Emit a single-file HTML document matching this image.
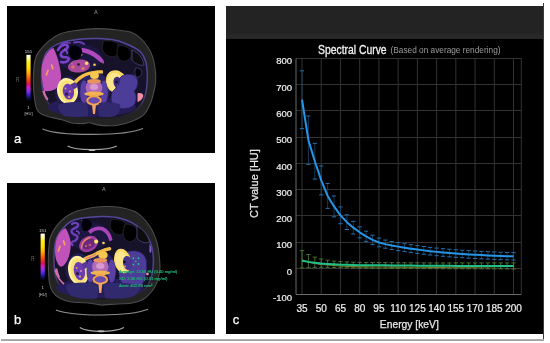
<!DOCTYPE html>
<html><head><meta charset="utf-8"><style>
html,body{margin:0;padding:0;background:#fff;width:550px;height:343px;overflow:hidden;position:relative;font-family:"Liberation Sans",Arial,sans-serif}
.p{position:absolute;background:#000;overflow:hidden}
.lbl{position:absolute;color:#fff;-webkit-text-stroke:0.25px #fff;font:13px "Liberation Sans",Arial,sans-serif}
svg text{font-family:"Liberation Sans",Arial,sans-serif}
</style></head><body>
<svg width="0" height="0" style="position:absolute"><defs>
<linearGradient id="lut" x1="0" y1="0" x2="0" y2="1">
<stop offset="0" stop-color="#fffff0"/><stop offset="0.06" stop-color="#fffcb0"/><stop offset="0.15" stop-color="#ffec20"/><stop offset="0.27" stop-color="#ffe000"/>
<stop offset="0.37" stop-color="#ffb000"/><stop offset="0.46" stop-color="#ff7000"/><stop offset="0.55" stop-color="#f03020"/><stop offset="0.61" stop-color="#e01060"/>
<stop offset="0.68" stop-color="#d020d0"/><stop offset="0.76" stop-color="#8030f0"/><stop offset="0.825" stop-color="#4020d0"/><stop offset="0.89" stop-color="#101060"/><stop offset="0.955" stop-color="#02020a"/><stop offset="1" stop-color="#000"/>
</linearGradient>
<linearGradient id="istk" x1="0" y1="0" x2="0" y2="1"><stop offset="0" stop-color="#54489a"/><stop offset="0.7" stop-color="#4a4080"/><stop offset="0.9" stop-color="#2a2638"/><stop offset="1" stop-color="#1e1e22"/></linearGradient>
<filter id="bl" x="-10%" y="-10%" width="120%" height="120%"><feGaussianBlur stdDeviation="0.7"/></filter>
</defs></svg>
<div class="p" style="left:7px;top:6px;width:208px;height:146.5px">
<svg width="208" height="147" viewBox="0 0 208 147"><g transform="translate(-7,-6)">
  <!-- body outer (fat) -->
  <path d="M97.0 28.6 C102.5 28.5 106.4 28.8 112.0 29.4 C117.6 30.0 125.6 30.6 130.4 32.1 C135.2 33.6 137.5 35.6 140.6 38.3 C143.7 41.0 146.8 45.3 148.8 48.5 C150.9 51.7 151.8 54.1 152.9 57.7 C154.0 61.3 154.9 66.0 155.3 70.0 C155.8 74.0 155.8 78.3 155.6 82.0 C155.3 85.7 154.7 88.4 153.8 92.0 C152.9 95.6 152.0 100.0 150.3 103.8 C148.6 107.6 146.7 111.8 143.8 114.7 C140.9 117.6 137.2 119.2 132.8 121.0 C128.4 122.8 122.3 124.4 117.5 125.2 C112.7 126.0 107.6 125.7 104.0 125.6 C100.4 125.5 98.4 125.0 96.0 124.5 C93.6 124.0 91.7 122.9 89.5 122.7 C87.3 122.5 85.9 123.5 83.0 123.6 C80.1 123.6 75.5 123.6 72.0 123.0 C68.5 122.4 65.8 120.9 61.8 119.8 C57.8 118.7 51.5 117.5 48.0 116.5 C44.5 115.5 42.4 114.8 40.5 113.5 C38.6 112.2 37.8 111.6 36.8 109.0 C35.8 106.4 35.0 101.8 34.5 98.0 C34.0 94.2 33.6 90.3 33.5 86.0 C33.4 81.7 33.3 76.3 33.6 72.0 C33.9 67.7 34.3 63.2 35.1 60.0 C35.9 56.8 36.0 55.7 38.2 52.6 C40.4 49.5 44.7 44.4 48.4 41.3 C52.1 38.1 55.5 35.6 60.6 33.7 C65.7 31.8 72.9 31.0 79.0 30.1 C85.1 29.2 91.5 28.7 97.0 28.6 Z" fill="#232323" stroke="#4c4c4c" stroke-width="1.1"/>
  <!-- inner cavity -->
  <path d="M97.0 38.6 C103.2 38.8 110.7 39.2 116.4 40.4 C122.1 41.6 126.9 44.0 131.0 46.0 C135.1 48.0 138.6 50.0 141.0 52.5 C143.4 55.0 144.5 57.8 145.5 61.0 C146.5 64.2 146.9 68.2 147.2 72.0 C147.4 75.8 147.4 80.0 147.0 84.0 C146.6 88.0 146.1 92.4 145.0 96.0 C143.9 99.6 142.5 102.8 140.5 105.5 C138.5 108.2 136.4 110.1 133.0 112.0 C129.6 113.9 124.8 116.0 120.0 117.0 C115.2 118.0 108.7 117.9 104.0 118.0 C99.3 118.1 96.7 118.0 92.0 117.8 C87.3 117.6 80.8 117.6 76.0 117.0 C71.2 116.4 66.8 115.5 63.0 114.0 C59.2 112.5 55.8 110.3 53.0 108.0 C50.2 105.7 48.2 103.3 46.5 100.0 C44.8 96.7 43.3 92.0 42.5 88.0 C41.7 84.0 41.5 80.0 41.5 76.0 C41.5 72.0 41.9 67.6 42.5 64.0 C43.1 60.4 44.0 57.2 45.3 54.6 C46.6 52.0 47.8 50.5 50.4 48.5 C53.0 46.5 55.8 44.4 60.6 42.9 C65.4 41.4 72.9 40.0 79.0 39.3 C85.1 38.6 90.8 38.4 97.0 38.6 Z" fill="#16122a" stroke="url(#istk)" stroke-width="1.5"/>
  <g filter="url(#bl)">
  <ellipse cx="92" cy="107" rx="44" ry="10" fill="#261d58"/>
  <ellipse cx="68" cy="92" rx="13" ry="16" fill="#221a50"/>
  <ellipse cx="94" cy="90" rx="16" ry="18" fill="#2a2060"/>
  <ellipse cx="80" cy="58" rx="22" ry="14" fill="#1e1840"/>

  <!-- top-left bowel purple loops -->
  <path d="M58 50 C60 46 64 44 67 45 C69 47 66 50 63 51 C60 53 60 56 63 57 C66 58 68 56 69 59 C68 62 64 63 61 62" stroke="#7a42c8" stroke-width="2.6" fill="none" stroke-linecap="round"/>
  <path d="M60 46 C62 43 66 42 70 43" stroke="#6a3cb8" stroke-width="1.8" fill="none" stroke-linecap="round"/>
  <path d="M64 49 C66 50 68 52 67 54" stroke="#8a50d0" stroke-width="1.5" fill="none"/>
  <path d="M74 42.5 C78 41.5 82 42 84 44" stroke="#6a3cb8" stroke-width="2" fill="none" stroke-linecap="round"/>
  <!-- magenta band -->
  <path d="M82 48 C88 48.5 95 51.5 100 56 C102.5 58.5 104.5 61 104 63.5 C102 63.5 99.5 61.5 97 59.5 C93 56 88 53.5 83 52.5 C81 51.5 80.5 49 82 48 Z" fill="#b048be"/>
  <!-- lower mottled pink -->
  <path d="M68 66 C70 61 76 59 82 59.5 C87 60 90 62 90 66 C89 70 84 72.5 78 72.5 C72 72.5 67.5 70.5 68 66 Z" fill="#a8489c"/>
  <circle cx="73" cy="67" r="1.8" fill="#d87070"/><circle cx="78.5" cy="64.5" r="1.3" fill="#2a1430"/><circle cx="83" cy="68.5" r="1.5" fill="#e08860"/><circle cx="72" cy="63.5" r="1" fill="#c060b0"/>
  <circle cx="81.5" cy="54.7" r="1" fill="#e09060"/>
  <!-- dark gas left-center -->
  <path d="M70 46 C74 44 80 46 82 50 C82 56 80 60 76 60 C72 60 69 56 69 52 Z" fill="#050408"/>
  <!-- colon gas top-right -->
  <path d="M103 41 C110 40 117 41 119 46 C120 51 118 56 113 57 C107 57 103 53 102 48 Z" fill="#040405" stroke="#262630" stroke-width="0.8"/>
  <path d="M118 45.5 C124 45 130 47 131 52 C132 57 129 61 124 61.5 C119 61 117 57 117 52 Z" fill="#040405" stroke="#262630" stroke-width="0.8"/>
  <path d="M132 50 C138 52 143 58 144 65 C140 66 135 64 132 60 Z" fill="#0a0a10" stroke="#4a4078" stroke-width="0.9"/>
  <!-- bright dots -->
  <circle cx="86.6" cy="63.3" r="1.7" fill="#ffe060"/>
  <circle cx="94.5" cy="64.7" r="1.3" fill="#ffd050"/>
  <!-- liver -->
  <path d="M47.5 52.5 C49.5 50 51.5 48.5 53.5 48 C57 55 60 65 61 75 C61.3 81 59 86 55.6 89 C52 91 47 91.5 44 91 C42.5 85 41.5 77 41.6 70 C41.7 64 44 57.5 47.5 52.5 Z" fill="#c052ba"/>
  <path d="M46.4 75 L48 70.3 M51.5 65 L52.8 68.6" stroke="#f0a060" stroke-width="1.7" stroke-linecap="round" fill="none"/>
  <path d="M42.3 91 C43.5 95 45 98 47 100.5 L48.5 99 C46.5 96.5 45.5 94 44.8 91 Z" fill="#d070a8"/>
  <!-- psoas -->
      <!-- renal vein arc -->
  <path d="M70 86 C74 80 80 74 88 72 C94 70.5 100 70 103 70.5 L103 73.5 C98 73.5 92 74 88 75.5 C82 77.5 77 82 73 88 Z" fill="#f2c04a"/>
  <!-- aorta -->
  <ellipse cx="94.5" cy="75.5" rx="4.4" ry="3.6" fill="#f6c850"/>
  <!-- left kidney -->
  <ellipse cx="67.5" cy="91" rx="10.4" ry="13.1" transform="rotate(-10 67.5 91)" fill="#fff0a0"/>
  <ellipse cx="67.8" cy="91.3" rx="8.4" ry="11" transform="rotate(-10 67.5 91)" fill="#fbe176"/>
  <ellipse cx="68.3" cy="91.8" rx="5.6" ry="8" transform="rotate(-10 67.5 91)" fill="#6a3cb0"/>
  <path d="M70.5 84.5 L75.0 82.0 L78.5 86.5 L73.5 89.5 Z" fill="#5a3498"/>
  <circle cx="66.5" cy="94.0" r="1.5" fill="#2a1840"/><circle cx="70.0" cy="91.5" r="1.1" fill="#e08aa0"/><circle cx="65.5" cy="88.5" r="1" fill="#e0a060"/><circle cx="69.0" cy="97.0" r="1" fill="#f0b060"/>
  <!-- right kidney crescent -->
  <ellipse cx="116.5" cy="82" rx="10.5" ry="12" transform="rotate(-25 116.5 82)" fill="#f8da62"/>
  <ellipse cx="115.5" cy="82" rx="8.2" ry="9.8" transform="rotate(-25 116.5 82)" fill="#fff0b0" opacity="0.55"/>
  <ellipse cx="118.5" cy="83.5" rx="4.6" ry="7" transform="rotate(-25 118.5 83.5)" fill="#3c2a78"/>
  <circle cx="116.5" cy="82" r="1.2" fill="#0c0818"/><circle cx="118" cy="86" r="1" fill="#e0a060"/>
  <!-- mass -->
  <path d="M120 78 C122 74.5 128 73.5 133 75 C137 76.5 138.5 81 137.5 85 C137 88 135.5 90 134 91 C136.5 94 136.8 100 134.8 104 C132.3 107.5 127 109 121 108.6 C115.5 108.2 112 104.5 111.2 99.5 C110.8 95 112 91.5 114.5 89.5 C117 87.5 119 84 119.5 81 Z" fill="#4c3c98" stroke="#2c2068" stroke-width="0.8"/>
  <path d="M137.5 93.5 C140 92.5 143.5 93.5 143.3 96 C142.5 99 140 101.5 137.5 102 Z" fill="#f090a8"/>
  <path d="M135.5 68 C138 67.5 141 69 142 72 C141.5 76 138.5 78 136 77 C134.5 74.5 134.5 70.5 135.5 68 Z" fill="#050408" stroke="#4a4078" stroke-width="0.8"/>
  <!-- spine -->
  <ellipse cx="84" cy="92.0" rx="3.8" ry="11.5" fill="#5a40a4"/><ellipse cx="104" cy="92.0" rx="3.8" ry="11.5" fill="#5a40a4"/>
  <ellipse cx="94" cy="87.5" rx="8.3" ry="8.3" fill="#b46ab8"/>
  <ellipse cx="94" cy="81.3" rx="6.8" ry="2.4" fill="#e8945a"/>
  <ellipse cx="94" cy="93.8" rx="9.8" ry="2.3" fill="#f2b452"/>
  <ellipse cx="94" cy="87.0" rx="4.2" ry="3" fill="#d898d0"/>
  <ellipse cx="94" cy="100.5" rx="6.8" ry="4.2" fill="#6a4ab0" stroke="#f0a24c" stroke-width="2"/>
  <path d="M92.0 104.0 L96.0 104.0 L95.0 114.0 L93.0 114.0 Z" fill="#f2a860"/>
  <!-- back muscles -->
  <path d="M58 105 C64 102 74 101.5 84 102.5 C88 104 89 110 88 116 C82 117.5 72 117.5 64 116 C60 113 58 109 58 105 Z" fill="#32296e"/>
  <path d="M99 103 C106 101.5 114 102 120 104.5 C121 109 119 114 114 116.5 C108 117.5 102 117.5 99 116 C98 111 98 107 99 103 Z" fill="#32296e"/>
  </g>
  <!-- table lines -->
  <path d="M42.5 128.9 C60 136.3 125 136.3 143 128.5" stroke="#8e8e8e" stroke-width="1.1" fill="none"/>
  <path d="M67.6 146 C76 150.8 108 150.8 116.7 146" stroke="#a4a4a4" stroke-width="1.4" fill="none"/><ellipse cx="92" cy="149.9" rx="3.5" ry="1" fill="#bbbbbb"/>
</g>
<g transform="translate(-7,-6)"><rect x="26.4" y="54.8" width="4.2" height="48.2" fill="url(#lut)"/>
  <text x="28.5" y="53.2" font-size="4.4" fill="#d0d0d0" text-anchor="middle">151</text>
  <text x="28.5" y="109.0" font-size="4.4" fill="#d0d0d0" text-anchor="middle">1</text>
  <text x="28.5" y="115.2" font-size="4" fill="#c0c0c0" text-anchor="middle">[HU]</text>
  <text transform="translate(17.7,82.2) scale(0.72,1)" font-size="6.5" fill="#6a6a6a" text-anchor="middle">R</text><text x="95.8" y="14" font-size="5.5" fill="#999" text-anchor="middle">A</text></g></svg>
<div class="lbl" style="left:7.1px;top:125.1px">a</div>
</div>
<div class="p" style="left:7px;top:183px;width:208px;height:150.5px">
<svg width="208" height="151" viewBox="0 0 208 151"><g transform="translate(-7,-183)">
  <path d="M104.0 206.5 C109.3 206.4 116.4 206.6 122.0 207.7 C127.6 208.8 132.9 210.0 137.5 213.1 C142.1 216.2 146.6 221.5 149.8 226.3 C153.0 231.1 155.2 236.8 156.8 242.0 C158.4 247.2 158.9 253.5 159.4 257.8 C159.9 262.1 160.1 264.6 159.9 268.0 C159.7 271.4 159.1 274.9 158.3 278.0 C157.5 281.1 156.4 283.9 155.0 286.5 C153.6 289.1 152.0 291.3 150.0 293.5 C148.0 295.7 146.0 297.9 143.0 299.5 C140.0 301.1 136.2 302.2 132.0 303.0 C127.8 303.8 122.3 303.7 118.0 304.0 C113.7 304.3 108.6 304.4 106.0 304.6 C103.4 304.8 103.8 305.2 102.6 305.2 C101.4 305.2 101.8 305.0 99.0 304.6 C96.2 304.2 90.8 303.3 86.0 302.8 C81.2 302.3 74.5 302.6 70.2 301.8 C65.9 301.1 62.9 299.9 60.0 298.3 C57.1 296.7 54.5 294.7 52.7 292.0 C50.9 289.3 50.0 286.3 49.3 282.0 C48.6 277.7 48.5 270.7 48.4 266.0 C48.2 261.3 48.3 257.7 48.4 254.0 C48.5 250.3 48.8 246.9 49.2 244.0 C49.6 241.1 49.4 239.4 50.6 236.5 C51.8 233.6 53.8 229.5 56.2 226.3 C58.6 223.1 61.8 219.9 65.0 217.5 C68.2 215.1 71.0 213.3 75.2 211.7 C79.4 210.1 85.2 208.9 90.0 208.0 C94.8 207.1 98.7 206.6 104.0 206.5 Z" fill="#232323" stroke="#4c4c4c" stroke-width="1.1"/>
  <path d="M104.0 216.6 C108.7 216.8 115.3 217.2 120.0 218.2 C124.7 219.2 128.8 221.0 132.3 222.8 C135.8 224.6 138.7 227.0 141.0 229.0 C143.3 231.0 144.7 232.7 146.3 235.0 C147.9 237.3 149.4 240.3 150.5 243.0 C151.6 245.7 152.1 247.8 152.6 251.0 C153.1 254.2 153.5 258.2 153.4 262.0 C153.3 265.8 152.9 270.5 152.2 274.0 C151.5 277.5 150.4 280.3 149.0 283.0 C147.6 285.7 146.5 287.9 144.0 290.0 C141.5 292.1 138.0 294.1 134.0 295.5 C130.0 296.9 125.0 297.9 120.0 298.5 C115.0 299.1 107.8 299.1 104.0 299.2 C100.2 299.3 100.7 299.5 97.0 299.2 C93.3 298.9 86.8 298.6 82.0 297.5 C77.2 296.4 71.8 294.8 68.0 292.5 C64.2 290.2 61.2 287.2 59.0 284.0 C56.8 280.8 55.8 277.0 55.0 273.0 C54.2 269.0 54.1 264.2 54.0 260.0 C53.9 255.8 54.2 251.3 54.5 248.0 C54.8 244.7 55.3 242.4 56.0 240.0 C56.7 237.6 57.5 235.9 58.8 233.8 C60.0 231.8 61.5 229.8 63.5 227.7 C65.5 225.6 68.0 223.0 70.8 221.5 C73.5 220.0 76.5 219.2 80.0 218.5 C83.5 217.8 88.0 217.3 92.0 217.0 C96.0 216.7 99.3 216.4 104.0 216.6 Z" fill="#16122a" stroke="url(#istk)" stroke-width="1.5"/>
  <g filter="url(#bl)">
  <ellipse cx="100" cy="288" rx="44" ry="10" fill="#261d58"/>
  <ellipse cx="78.5" cy="270" rx="13" ry="17" fill="#221a50"/>
  <ellipse cx="100.5" cy="270" rx="16" ry="18" fill="#2a2060"/>
  <ellipse cx="88" cy="236" rx="22" ry="14" fill="#1e1840"/>

  <!-- bowel purple loops -->
  <path d="M72 224 C75 222 79 223 78 226 C76 229 72 228 71.5 231 C71 234 75 234.5 77 236 C78.5 238 76 241 73 241.5 C71 242 70.5 244 72.5 245" stroke="#6c40b8" stroke-width="2.3" fill="none" stroke-linecap="round"/>
  <path d="M76 231 C78 231 79.5 232.5 79 234.5" stroke="#7a4ac4" stroke-width="1.5" fill="none"/>
  <path d="M82 221 C85 220 88 221 90 223" stroke="#5a38a0" stroke-width="1.8" fill="none" stroke-linecap="round"/>
  <!-- magenta arch -->
  <path d="M88 231 C92 227 98 225.5 103 227 C108 229 111.5 234 112.5 240 L109.5 241.5 C108.5 236.5 105.5 232 101.5 230.5 C97 229.5 93 231 90.5 234 Z" fill="#a844b6"/>
  <!-- duodenum loop -->
  <ellipse cx="88.5" cy="244" rx="10" ry="7.5" transform="rotate(-30 88.5 244)" fill="#9c3ea0"/>
  <ellipse cx="88.5" cy="244" rx="7.2" ry="4.8" transform="rotate(-30 88.5 244)" fill="#6a2a78"/>
  <path d="M81.5 248 C82 243 85 239 90 237.5" stroke="#e88070" stroke-width="1.5" fill="none" stroke-linecap="round"/>
  <circle cx="90" cy="245" r="1.3" fill="#c05898"/><circle cx="86" cy="246" r="1" fill="#e07060"/>
  <!-- gas -->
  <path d="M83 219 C87 218 91 220 92 224 C91 229 88 232 84 231 C81 229 81 223 83 219 Z" fill="#050408"/>
  <path d="M111 219.5 C118 219 124 220 126 224 C127 229 125 234 120 235 C114 235 111 231 110 226 Z" fill="#040405" stroke="#262630" stroke-width="0.8"/>
  <path d="M125 224 C131 224 136 226 137.5 231 C138 236 135 241 130 242 C125 241.5 123 237 123 232 Z" fill="#040405" stroke="#262630" stroke-width="0.8"/>
  <path d="M137 226 C143 229 148 235 149.5 242 C145 244 140 242 137 238 Z" fill="#0a0a10" stroke="#4a4078" stroke-width="0.9"/>
  <path d="M149.5 244 C151 246 152 250 151 253 L149.5 252 Z" fill="#8a60d0"/>
  <!-- dots -->
  <circle cx="96.2" cy="241.6" r="2.1" fill="#ffe870"/>
  <circle cx="103.5" cy="243" r="1.3" fill="#ffd050"/>
  <!-- liver -->
  <path d="M65.5 228 C68 232 70.5 238 70.8 244.7 C70.6 250 69.5 256 67 261 C65 264.5 63 266.6 61 266.8 C58.5 266 56.5 262 55.5 257 C54.6 251 55 244 57 238 C59 233 62 229.5 65.5 228 Z" fill="#c052ba"/>
  <path d="M58.4 251 L60 246.3 M63.5 241 L64.8 244.6" stroke="#f0a060" stroke-width="1.7" stroke-linecap="round" fill="none"/>
  <path d="M55 268.5 C56 272 57 275 58.5 278 L60 277 C58.8 274.5 58 271.5 57.3 268.5 Z" fill="#d070a8"/>
  <!-- psoas -->
      <!-- renal vein band -->
  <path d="M80.5 262 C84 259.5 87 257.5 90.3 256.6 C94 255.5 96.5 253.5 99 252.3 C103 250.5 106 249.3 109.5 248.8" stroke="#f2bc4c" stroke-width="3.6" fill="none" stroke-linecap="round"/>
  <path d="M86 258.5 C89 257.5 93 256 96 254" stroke="#d86890" stroke-width="1" fill="none"/>
  <!-- left kidney -->
  <ellipse cx="78.5" cy="270.5" rx="10.3" ry="14.8" transform="rotate(-10 78.5 270.5)" fill="#fff0a0"/>
  <ellipse cx="78.8" cy="270.8" rx="8.3" ry="12.6" transform="rotate(-10 78.5 270.5)" fill="#fbe176"/>
  <ellipse cx="79.3" cy="271.3" rx="5.6" ry="9.2" transform="rotate(-10 78.5 270.5)" fill="#6a3cb0"/>
  <path d="M81.5 264.0 L86.0 261.5 L89.5 266.0 L84.5 269.0 Z" fill="#5a3498"/>
  <circle cx="77.5" cy="273.5" r="1.5" fill="#2a1840"/><circle cx="81.0" cy="271.0" r="1.1" fill="#e08aa0"/><circle cx="76.5" cy="268.0" r="1" fill="#e0a060"/><circle cx="80.0" cy="276.5" r="1" fill="#f0b060"/>
  <!-- mass -->
  <path d="M123 256 C124 252 130 250.5 136 251 C142 252 146 256 146.5 262 C147 270 146 279 142 284.5 C137 288.5 130 288.5 125 286 C120 282 118.5 276 119 270 C119.5 265 121 260 123 256 Z" fill="#4c3c98" stroke="#2c2068" stroke-width="0.8"/>
  <!-- right kidney -->
  <ellipse cx="122.5" cy="261" rx="8.3" ry="12.4" transform="rotate(-12 122.5 261)" fill="#f8da62"/>
  <ellipse cx="121.8" cy="261" rx="6.3" ry="10.2" transform="rotate(-12 122.5 261)" fill="#fff0b0" opacity="0.55"/>
  <ellipse cx="127.6" cy="263" rx="4.6" ry="7.2" transform="rotate(-12 127.6 263)" fill="#4a3490"/>
  <circle cx="124.5" cy="262" r="1.2" fill="#0c0818"/><circle cx="125" cy="266.5" r="1" fill="#e0a060"/>
  <!-- aorta -->
  <ellipse cx="103" cy="255" rx="4.7" ry="4.3" fill="#f6c850"/>
  <!-- spine -->
  <ellipse cx="90.3" cy="271.0" rx="3.8" ry="11.5" fill="#5a40a4"/><ellipse cx="111.8" cy="271.0" rx="3.8" ry="11.5" fill="#5a40a4"/>
  <ellipse cx="100.3" cy="266.5" rx="8.3" ry="8.3" fill="#b46ab8"/>
  <ellipse cx="100.3" cy="260.3" rx="6.8" ry="2.4" fill="#e8945a"/>
  <ellipse cx="100.3" cy="272.8" rx="9.8" ry="2.3" fill="#f2b452"/>
  <ellipse cx="100.3" cy="266.0" rx="4.2" ry="3" fill="#d898d0"/>
  <ellipse cx="100.3" cy="279.5" rx="6.8" ry="4.2" fill="#6a4ab0" stroke="#f0a24c" stroke-width="2"/>
  <path d="M 98.3 283.0 L 102.3 283.0 L 101.3 293.0 L 99.3 293.0 Z" fill="#f2a860"/>
  <!-- back muscles -->
  <path d="M66 285 C74 282 86 282 96 283.5 C98.5 287 98.5 293 97 298.5 C88 299.5 76 298.5 70 295 C67 292 66 288 66 285 Z" fill="#32296e"/>
  <path d="M104.5 284 C114 282 128 282 140 285.5 C141.5 290 138 295 130 297.5 C120 299 110 299 105 298 C103.8 293 103.8 288 104.5 284 Z" fill="#32296e"/>
  <path d="M55 270 C57 276 60 281 64 284" stroke="#d070a8" stroke-width="1.6" fill="none"/>
  <circle cx="147.4" cy="274" r="1.3" fill="#f0a0b0"/>
  </g>
  <g fill="#22c48e">
   <circle cx="133.4" cy="258.3" r="0.95"/><circle cx="138.5" cy="258.3" r="0.95"/><circle cx="135.8" cy="261.4" r="0.8"/>
   <circle cx="133.4" cy="264.6" r="0.95"/><circle cx="138.5" cy="264" r="0.95"/>
  </g>
  <g fill="#1fae72" stroke="#1fae72" stroke-width="0.2" font-size="4.4" font-family="Liberation Sans, Arial, sans-serif">
   <text x="119" y="272.9" textLength="58" lengthAdjust="spacingAndGlyphs">Average: 13.55 HU (0.40 mg/ml)</text>
   <text x="119" y="279.7" textLength="48.5" lengthAdjust="spacingAndGlyphs">SD: 2.86 HU (0.31 mg/ml)</text>
   <text x="119" y="286.6" textLength="33.5" lengthAdjust="spacingAndGlyphs">Area: 402.66 mm²</text>
  </g>
  <path d="M55.9 310 C75 316.8 128 316.8 148 309.3" stroke="#8e8e8e" stroke-width="1.1" fill="none"/>
  <path d="M79.8 327.5 C88 332.7 114 332.7 124 327.5" stroke="#a4a4a4" stroke-width="1.4" fill="none"/><ellipse cx="101" cy="331.3" rx="3.5" ry="1" fill="#bbbbbb"/>
</g>
<g transform="translate(-7,-183)"><rect x="40.6" y="233.6" width="4.2" height="48.900000000000006" fill="url(#lut)"/>
  <text x="42.7" y="231.6" font-size="4.4" fill="#d0d0d0" text-anchor="middle">151</text>
  <text x="42.7" y="288.5" font-size="4.4" fill="#d0d0d0" text-anchor="middle">1</text>
  <text x="42.7" y="295.5" font-size="4" fill="#c0c0c0" text-anchor="middle">[HU]</text>
  <text transform="translate(32.7,261.2) scale(0.72,1)" font-size="6.5" fill="#6a6a6a" text-anchor="middle">R</text><text x="103.8" y="191" font-size="5.5" fill="#999" text-anchor="middle">A</text></g></svg>
<div class="lbl" style="left:6.9px;top:128.6px">b</div>
</div>
<div class="p" style="left:226px;top:6px;width:318px;height:327.5px">
<div style="position:absolute;left:0;top:0;width:318px;height:33px;background:linear-gradient(#232323 0,#232323 27px,#292929 29.5px,#292929 32px,#242424 33px)"></div>
<svg width="318" height="328" viewBox="0 0 318 328" style="position:absolute;left:0;top:0">
<g stroke="#333333" stroke-width="1"><line x1="70.0" y1="78.5" x2="295.3" y2="78.5"/>
<line x1="70.0" y1="104.5" x2="295.3" y2="104.5"/>
<line x1="70.0" y1="131.5" x2="295.3" y2="131.5"/>
<line x1="70.0" y1="157.5" x2="295.3" y2="157.5"/>
<line x1="70.0" y1="183.5" x2="295.3" y2="183.5"/>
<line x1="70.0" y1="209.5" x2="295.3" y2="209.5"/>
<line x1="70.0" y1="236.5" x2="295.3" y2="236.5"/>
<line x1="70.0" y1="262.5" x2="295.3" y2="262.5"/>
<line x1="70.0" y1="52.5" x2="295.3" y2="52.5"/>
<line x1="76.0" y1="52.2" x2="76.0" y2="288.72"/>
<line x1="95.23" y1="52.2" x2="95.23" y2="288.72"/>
<line x1="114.46" y1="52.2" x2="114.46" y2="288.72"/>
<line x1="133.69" y1="52.2" x2="133.69" y2="288.72"/>
<line x1="152.92" y1="52.2" x2="152.92" y2="288.72"/>
<line x1="172.15" y1="52.2" x2="172.15" y2="288.72"/>
<line x1="191.38" y1="52.2" x2="191.38" y2="288.72"/>
<line x1="210.61" y1="52.2" x2="210.61" y2="288.72"/>
<line x1="229.84" y1="52.2" x2="229.84" y2="288.72"/>
<line x1="249.07" y1="52.2" x2="249.07" y2="288.72"/>
<line x1="268.3" y1="52.2" x2="268.3" y2="288.72"/>
<line x1="287.53" y1="52.2" x2="287.53" y2="288.72"/>
<line x1="295.3" y1="52.2" x2="295.3" y2="288.72"/></g>
<g fill="none" stroke="#6a6a6a" stroke-width="1"><polyline points="70.0,52.5 70.0,288.5 295.3,288.5"/></g>
<path d="M76.0 244.57V261.91M73.8 244.57H78.2M73.8 261.91H78.2M82.41 248.51V261.65M80.21 248.51H84.61M80.21 261.65H84.61M88.82 251.14V261.39M86.62 251.14H91.02M86.62 261.39H91.02M95.23 252.98V261.39M93.03 252.98H97.43M93.03 261.39H97.43M101.64 254.29V261.39M99.44 254.29H103.84M99.44 261.39H103.84M108.05 255.08V261.52M105.85 255.08H110.25M105.85 261.52H110.25M114.46 255.61V261.65M112.26 255.61H116.66M112.26 261.65H116.66M120.87 255.87V261.83M118.67 255.87H123.07M118.67 261.83H123.07M127.28 256.13V262.0M125.08 256.13H129.48M125.08 262.0H129.48M133.69 256.4V262.18M131.49 256.4H135.89M131.49 262.18H135.89M140.1 256.44V262.22M137.9 256.44H142.3M137.9 262.22H142.3M146.51 256.48V262.26M144.31 256.48H148.71M144.31 262.26H148.71M152.92 256.53V262.31M150.72 256.53H155.12M150.72 262.31H155.12M159.33 256.57V262.35M157.13 256.57H161.53M157.13 262.35H161.53M165.74 256.61V262.4M163.54 256.61H167.94M163.54 262.4H167.94M172.15 256.66V262.44M169.95 256.66H174.35M169.95 262.44H174.35M178.56 256.7V262.48M176.36 256.7H180.76M176.36 262.48H180.76M184.97 256.75V262.53M182.77 256.75H187.17M182.77 262.53H187.17M191.38 256.79V262.57M189.18 256.79H193.58M189.18 262.57H193.58M197.79 256.83V262.62M195.59 256.83H199.99M195.59 262.62H199.99M204.2 256.88V262.66M202.0 256.88H206.4M202.0 262.66H206.4M210.61 256.92V262.7M208.41 256.92H212.81M208.41 262.7H212.81M217.02 256.92V262.72M214.82 256.92H219.22M214.82 262.72H219.22M223.43 256.92V262.75M221.23 256.92H225.63M221.23 262.75H225.63M229.84 256.92V262.77M227.64 256.92H232.04M227.64 262.77H232.04M236.25 256.92V262.79M234.05 256.92H238.45M234.05 262.79H238.45M242.66 256.92V262.81M240.46 256.92H244.86M240.46 262.81H244.86M249.07 256.92V262.83M246.87 256.92H251.27M246.87 262.83H251.27M255.48 256.92V262.86M253.28 256.92H257.68M253.28 262.86H257.68M261.89 256.92V262.88M259.69 256.92H264.09M259.69 262.88H264.09M268.3 256.92V262.9M266.1 256.92H270.5M266.1 262.9H270.5M274.71 256.92V262.92M272.51 256.92H276.91M272.51 262.92H276.91M281.12 256.92V262.94M278.92 256.92H283.32M278.92 262.94H283.32M287.53 256.92V262.97M285.33 256.92H289.73M285.33 262.97H289.73" stroke="#4a8038" stroke-width="0.85" fill="none"/>
<path d="M76.0 64.81V122.63M82.41 110.02V158.37M88.82 137.35V173.09M95.23 159.95V188.86M101.64 177.47V202.35M108.05 189.99V210.84M114.46 200.94V217.76M120.87 208.78V223.5M127.28 215.38V227.99M133.69 220.79V231.83M140.1 225.23V235.35M146.51 229.22V238.41M152.92 232.09V240.76M159.33 234.07V242.21M165.74 235.42V243.51M172.15 236.62V244.64M178.56 237.72V245.67M184.97 238.69V246.58M191.38 239.61V247.43M197.79 240.5V248.26M204.2 241.34V249.03M210.61 242.07V249.69M217.02 242.69V250.29M223.43 243.25V250.83M229.84 243.77V251.32M236.25 244.23V251.77M242.66 244.65V252.17M249.07 245.03V252.52M255.48 245.37V252.84M261.89 245.68V253.13M268.3 245.97V253.4M274.71 246.24V253.64M281.12 246.47V253.85M287.53 246.67V254.03" stroke="#17476f" stroke-width="0.8" fill="none"/>
<path d="M73.9 64.81H78.1M73.9 122.63H78.1M80.31 110.02H84.51M80.31 158.37H84.51M86.72 137.35H90.92M86.72 173.09H90.92M93.13 159.95H97.33M93.13 188.86H97.33M99.54 177.47H103.74M99.54 202.35H103.74M105.95 189.99H110.15M105.95 210.84H110.15M112.36 200.94H116.56M112.36 217.76H116.56M118.77 208.78H122.97M118.77 223.5H122.97M125.18 215.38H129.38M125.18 227.99H129.38M131.59 220.79H135.79M131.59 231.83H135.79M138.0 225.23H142.2M138.0 235.35H142.2M144.41 229.22H148.61M144.41 238.41H148.61M150.82 232.09H155.02M150.82 240.76H155.02M157.23 234.07H161.43M157.23 242.21H161.43M163.64 235.42H167.84M163.64 243.51H167.84M170.05 236.62H174.25M170.05 244.64H174.25M176.46 237.72H180.66M176.46 245.67H180.66M182.87 238.69H187.07M182.87 246.58H187.07M189.28 239.61H193.48M189.28 247.43H193.48M195.69 240.5H199.89M195.69 248.26H199.89M202.1 241.34H206.3M202.1 249.03H206.3M208.51 242.07H212.71M208.51 249.69H212.71M214.92 242.69H219.12M214.92 250.29H219.12M221.33 243.25H225.53M221.33 250.83H225.53M227.74 243.77H231.94M227.74 251.32H231.94M234.15 244.23H238.35M234.15 251.77H238.35M240.56 244.65H244.76M240.56 252.17H244.76M246.97 245.03H251.17M246.97 252.52H251.17M253.38 245.37H257.58M253.38 252.84H257.58M259.79 245.68H263.99M259.79 253.13H263.99M266.2 245.97H270.4M266.2 253.4H270.4M272.61 246.24H276.81M272.61 253.64H276.81M279.02 246.47H283.22M279.02 253.85H283.22M285.43 246.67H289.63M285.43 254.03H289.63" stroke="#2670ac" stroke-width="1" fill="none"/>
<polyline points="76.0,253.77 82.41,256.13 88.82,257.45 95.23,258.5 101.64,259.02 108.05,259.55 114.46,260.07 120.87,260.34 127.28,260.6 133.69,260.86 140.1,260.91 146.51,260.95 152.92,260.99 159.33,261.04 165.74,261.08 172.15,261.13 178.56,261.17 184.97,261.21 191.38,261.26 197.79,261.3 204.2,261.34 210.61,261.39 217.02,261.34 223.43,261.3 229.84,261.26 236.25,261.21 242.66,261.17 249.07,261.13 255.48,260.99 261.89,260.86 268.3,260.73 274.71,260.6 281.12,260.47 287.53,260.34" stroke="#7f7a26" stroke-width="1.1" fill="none"/>
<polyline points="76.0,254.82 82.41,255.87 88.82,256.66 95.23,257.45 101.64,257.97 108.05,258.37 114.46,258.63 120.87,258.8 127.28,258.98 133.69,259.15 140.1,259.21 146.51,259.26 152.92,259.32 159.33,259.37 165.74,259.43 172.15,259.48 178.56,259.54 184.97,259.59 191.38,259.65 197.79,259.7 204.2,259.76 210.61,259.81 217.02,259.83 223.43,259.86 229.84,259.88 236.25,259.9 242.66,259.92 249.07,259.94 255.48,259.97 261.89,259.99 268.3,260.01 274.71,260.03 281.12,260.05 287.53,260.07" stroke="#1fbf88" stroke-width="2" fill="none" stroke-linejoin="round"/>
<polyline points="76.0,93.72 82.41,134.19 88.82,155.22 95.23,174.4 101.64,189.91 108.05,200.42 114.46,209.35 120.87,216.14 127.28,221.68 133.69,226.31 140.1,230.29 146.51,233.81 152.92,236.42 159.33,238.14 165.74,239.46 172.15,240.63 178.56,241.69 184.97,242.64 191.38,243.52 197.79,244.38 204.2,245.19 210.61,245.88 217.02,246.49 223.43,247.04 229.84,247.54 236.25,248.0 242.66,248.41 249.07,248.77 255.48,249.1 261.89,249.41 268.3,249.69 274.71,249.94 281.12,250.16 287.53,250.35" stroke="#2596e8" stroke-width="2" fill="none" stroke-linejoin="round"/>
<g fill="#eeeeee" stroke="#eeeeee" stroke-width="0.22" font-size="9.5"><text x="66" y="58.4" text-anchor="end">800</text><text x="66" y="84.68" text-anchor="end">700</text><text x="66" y="110.96" text-anchor="end">600</text><text x="66" y="137.24" text-anchor="end">500</text><text x="66" y="163.52" text-anchor="end">400</text><text x="66" y="189.8" text-anchor="end">300</text><text x="66" y="216.08" text-anchor="end">200</text><text x="66" y="242.36" text-anchor="end">100</text><text x="66" y="268.64" text-anchor="end">0</text><text x="66" y="294.92" text-anchor="end">-100</text><text x="76.0" y="306.2" text-anchor="middle" font-size="10">35</text><text x="95.23" y="306.2" text-anchor="middle" font-size="10">50</text><text x="114.46" y="306.2" text-anchor="middle" font-size="10">65</text><text x="133.69" y="306.2" text-anchor="middle" font-size="10">80</text><text x="152.92" y="306.2" text-anchor="middle" font-size="10">95</text><text x="172.15" y="306.2" text-anchor="middle" font-size="10">110</text><text x="191.38" y="306.2" text-anchor="middle" font-size="10">125</text><text x="210.61" y="306.2" text-anchor="middle" font-size="10">140</text><text x="229.84" y="306.2" text-anchor="middle" font-size="10">155</text><text x="249.07" y="306.2" text-anchor="middle" font-size="10">170</text><text x="268.3" y="306.2" text-anchor="middle" font-size="10">185</text><text x="287.53" y="306.2" text-anchor="middle" font-size="10">200</text></g>

<text x="92" y="47.9" font-size="12.3" fill="#f2f2f2" stroke="#f2f2f2" stroke-width="0.3" textLength="68.6" lengthAdjust="spacingAndGlyphs">Spectral Curve</text>
<text x="164.5" y="47.2" font-size="8.2" fill="#9c9c9c" textLength="110" lengthAdjust="spacingAndGlyphs">(Based on average rendering)</text>
<text transform="translate(32,177.6) rotate(-90)" font-size="11" fill="#e8e8e8" stroke="#e8e8e8" stroke-width="0.25" text-anchor="middle">CT value [HU]</text>
<text x="183.3" y="322.3" font-size="11" fill="#e8e8e8" stroke="#e8e8e8" stroke-width="0.25" text-anchor="middle" textLength="59" lengthAdjust="spacingAndGlyphs">Energy [keV]</text>
</svg>
<div class="lbl" style="left:6.7px;top:305.6px">c</div>
</div>
<div style="position:absolute;left:543px;top:2.5px;width:1px;height:337.5px;background:#3a3a3a"></div>
<div style="position:absolute;left:1px;top:339px;width:543px;height:2px;background:linear-gradient(#b4b4b4,#9c9c9c)"></div>
</body></html>
